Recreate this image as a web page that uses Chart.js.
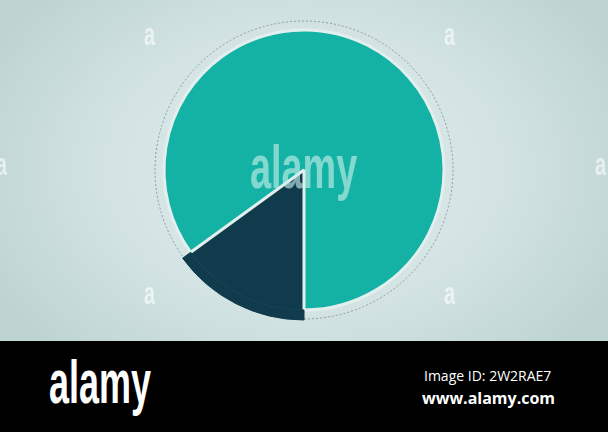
<!DOCTYPE html>
<html>
<head>
<meta charset="utf-8">
<script src="https://cdn.jsdelivr.net/npm/chart.js@4"></script>
<style>
  html, body { margin: 0; padding: 0; }
  body { width: 608px; height: 432px; overflow: hidden; background: #000; font-family: "Liberation Sans", sans-serif; }
  #stage {
    position: absolute; left: 0; top: 0; width: 608px; height: 341px;
    background: radial-gradient(ellipse 360px 260px at 304px 170px, #dfeaea 0%, #d3e3e3 55%, #bcd3d2 100%);
  }
  #chartWrap { position: absolute; left: 0; top: 0; width: 608px; height: 340px; }
  .narrow { position: absolute; font-family: "Liberation Sans", Arial, sans-serif; font-weight: bold; transform-origin: 0 0; white-space: nowrap; }
  .wm { color: rgba(255,255,255,0.6); font-size: 32px; line-height: 32px; transform: scaleX(0.62); }
  #wmCenter { left: 250px; top: 136px; color: rgba(200,240,236,0.62); font-size: 62px; line-height: 62px; transform: scaleX(0.61); }
  #footer { position: absolute; left: 0; top: 341px; width: 608px; height: 91px; background: #000; color: #fff; }
  #logo { left: 49px; top: 10px; color: #fff; font-size: 62px; line-height: 62px; transform: scaleX(0.58); }
  #imgId { position: absolute; left: 424px; top: 25px; font-family: "Open Sans", "DejaVu Sans", sans-serif; font-size: 14px; }
  #site { position: absolute; left: 422px; top: 46px; font-family: "Open Sans", "DejaVu Sans", sans-serif; font-weight: bold; font-size: 16px; }
</style>
</head>
<body>
<div id="stage">
  <div id="chartWrap"><canvas id="pieChart"></canvas></div>
  <div class="narrow wm" style="left:144px;top:18px;">a</div>
  <div class="narrow wm" style="left:444px;top:18px;">a</div>
  <div class="narrow wm" style="left:-4px;top:148px;">a</div>
  <div class="narrow wm" style="left:595px;top:148px;">a</div>
  <div class="narrow wm" style="left:144px;top:277px;">a</div>
  <div class="narrow wm" style="left:444px;top:277px;">a</div>
  <div class="narrow" id="wmCenter">alamy</div>
</div>
<div id="footer">
  <div class="narrow" id="logo">alamy</div>
  <div id="imgId">Image ID: 2W2RAE7</div>
  <div id="site">www.alamy.com</div>
</div>
<script>
const labels = ["Dark", "Teal"]
const shares = [15, 85]
const darkColor = "#0f3b4d"
const tealColor = "#13b2a4"

// dashed guide circle behind the pie
const dashedRing = {
	id: "dashedRing",
	beforeDatasetsDraw(chart) {
		const meta = chart.getDatasetMeta(0)
		const arc = meta.data[0]
		if (!arc) return
		const ctx = chart.ctx
		ctx.save()
		ctx.beginPath()
		ctx.setLineDash([2, 2])
		ctx.strokeStyle = "#8b9ca0"
		ctx.lineWidth = 1
		ctx.arc(arc.x, arc.y, meta.controller.outerRadius - 1, 0, Math.PI * 2)
		ctx.stroke()
		ctx.restore()
	}
}

const ctx = document.getElementById("pieChart").getContext("2d")
new Chart(ctx, {
	type: "pie",
	data: {
		labels: labels,
		datasets: [
			{
				// outer band: only the dark slice reaches it
				data: shares,
				weight: 1,
				backgroundColor: [darkColor, "rgba(0,0,0,0)"],
				borderColor: [darkColor, "rgba(0,0,0,0)"],
				borderWidth: [1, 0],
			},
			{
				data: shares,
				weight: 14,
				backgroundColor: [darkColor, tealColor],
				borderColor: "#e3efee",
				borderWidth: [0, 3],
			}
		],
	},
	options: {
		responsive: true,
		maintainAspectRatio: false,
		animation: false,
		events: [],
		rotation: 180,
		radius: 150,
		plugins: {
			legend: { display: false },
			tooltip: { enabled: false },
		},
	},
	plugins: [dashedRing],
})
</script>
</body>
</html>
